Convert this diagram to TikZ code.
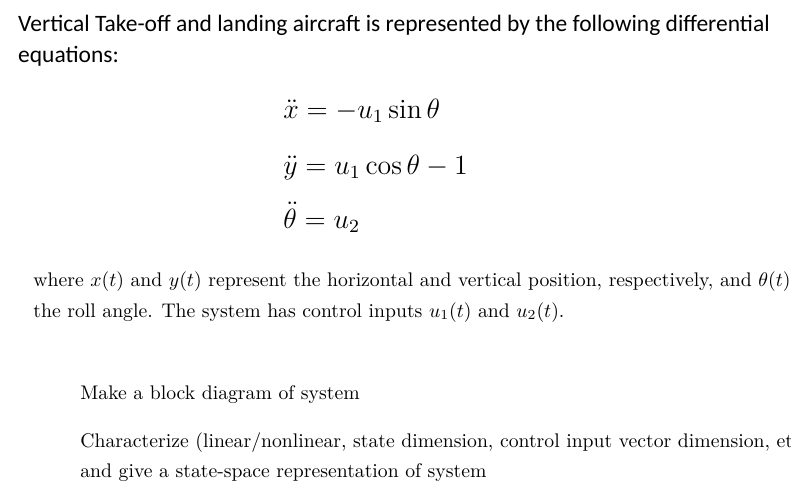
\documentclass[tikz,border=0pt]{standalone}
\usepackage{amsmath}
\usepackage{fontspec}
\newfontfamily\titlefont{Carlito}
\begin{document}
\begin{tikzpicture}[x=1pt,y=1pt,
  title/.style={anchor=base west,inner sep=0,font=\titlefont\fontsize{23.5}{27}\selectfont},
  body/.style={anchor=base west,inner sep=0,transform shape,scale=1.97},
  eqn/.style={anchor=base west,inner sep=0,transform shape,scale=2.32,font=\large}]
\useasboundingbox (0,0) rectangle (791,-496);
\fill[white] (0,0) rectangle (791,-496);
\node[title] (t1) at (18,-31) {Vertical Take-off and landing aircraft is represented by the following differential};
\node[title] (t2) at (18,-62) {equations:};
\node[eqn] (e1) at (283,-118) {$\ddot{x} = -u_1 \sin\theta$};
\node[eqn] (e2) at (283,-174) {$\ddot{y} = u_1 \cos\theta - 1$};
\node[eqn] (e3) at (283,-228) {$\ddot{\theta} = u_2$};
\node[body] (p1) at (33,-286) {where $x(t)$ and $y(t)$ represent the horizontal and vertical position, respectively, and $\theta(t)$ is};
\node[body] (p2) at (33,-317) {the roll angle. The system has control inputs $u_1(t)$ and $u_2(t)$.};
\node[body] (q1) at (80,-399) {Make a block diagram of system};
\node[body] (q2) at (80,-447) {Characterize (linear/nonlinear, state dimension, control input vector dimension, etc.)};
\node[body] (q3) at (80,-477) {and give a state-space representation of system};
\end{tikzpicture}
\end{document}
